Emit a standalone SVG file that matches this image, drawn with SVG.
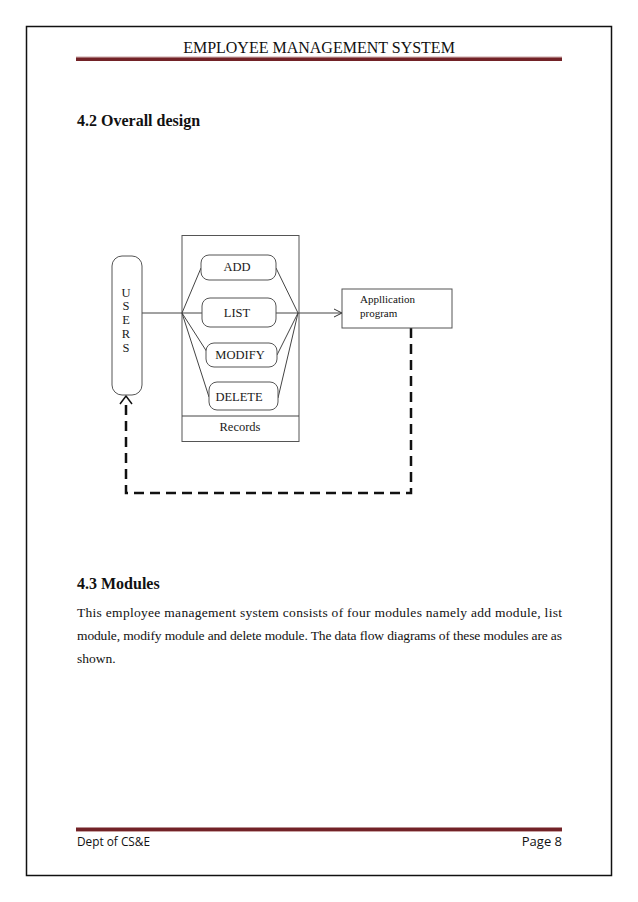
<svg xmlns="http://www.w3.org/2000/svg" width="638" height="902" viewBox="0 0 638 902">
<style>
.serif{font-family:"Liberation Serif","Times New Roman",serif;fill:#111}
.lbl{font-family:"Liberation Serif","Times New Roman",serif;font-size:12.5px;fill:#1a1a1a;text-anchor:middle}
.box{fill:#fff;stroke:#555;stroke-width:1}
.ln{stroke:#444;stroke-width:1;fill:none}
.dash{stroke:#111;stroke-width:2.5;fill:none;stroke-dasharray:10 6}
.foot{font-family:"Open Sans","Liberation Sans",sans-serif;font-size:13px;fill:#111}
</style>
<defs>
<marker id="open" viewBox="0 0 10 10" refX="9" refY="5" markerWidth="10" markerHeight="10" markerUnits="userSpaceOnUse" orient="auto">
<path d="M1,1 L9,5 L1,9" fill="none" stroke="#333" stroke-width="1"/>
</marker>
</defs>
<rect x="0" y="0" width="638" height="902" fill="#fff"/>
<rect id="page-border" x="26.5" y="26.5" width="585" height="849" fill="none" stroke="#111" stroke-width="1.5"/>

<g id="header">
<text class="serif" x="319" y="53" font-size="16" text-anchor="middle">EMPLOYEE MANAGEMENT SYSTEM</text>
<rect x="76" y="56.5" width="486" height="1.2" fill="#c9a3a3"/>
<rect x="76" y="57.5" width="486" height="3.5" fill="#722227"/>
</g>

<text class="serif" x="77" y="126" font-size="16" font-weight="bold">4.2 Overall design</text>

<g id="records-container">
<rect class="box" x="182" y="235.5" width="117" height="206"/>
<line class="ln" x1="182" y1="416" x2="299" y2="416"/>
<text class="lbl" x="240" y="431">Records</text>
</g>

<g id="connectors">
<line class="ln" x1="142" y1="313" x2="182" y2="313"/>
<line class="ln" x1="182" y1="313" x2="201" y2="268"/>
<line class="ln" x1="182" y1="313" x2="202" y2="313"/>
<line class="ln" x1="182" y1="313" x2="207" y2="352"/>
<line class="ln" x1="182" y1="313" x2="209" y2="397"/>
<line class="ln" x1="276" y1="268" x2="298" y2="313"/>
<line class="ln" x1="276" y1="313" x2="298" y2="313"/>
<line class="ln" x1="277" y1="355" x2="298" y2="313"/>
<line class="ln" x1="278" y1="398" x2="298" y2="313"/>
<line class="ln" x1="298" y1="313" x2="342" y2="313" marker-end="url(#open)"/>
<path class="dash" d="M411,328 V493 H126 V400"/>
<path d="M120,404 L126,396 L132,404" fill="none" stroke="#111" stroke-width="1.5"/>
</g>

<g id="users">
<rect class="box" x="112" y="256" width="30" height="139" rx="10" ry="10"/>
<text class="lbl" x="126" y="297">U</text>
<text class="lbl" x="126" y="310">S</text>
<text class="lbl" x="126" y="324">E</text>
<text class="lbl" x="126" y="338">R</text>
<text class="lbl" x="126" y="352">S</text>
</g>

<g id="add">
<rect class="box" x="201" y="255" width="75" height="25" rx="8" ry="8"/>
<text class="lbl" x="237" y="271">ADD</text>
</g>
<g id="list">
<rect class="box" x="202" y="298" width="74" height="29" rx="8" ry="8"/>
<text class="lbl" x="237" y="317">LIST</text>
</g>
<g id="modify">
<rect class="box" x="206" y="343" width="71" height="24" rx="8" ry="8"/>
<text class="lbl" x="240" y="359">MODIFY</text>
</g>
<g id="delete">
<rect class="box" x="209" y="382" width="69" height="28" rx="8" ry="8"/>
<text class="lbl" x="239" y="401">DELETE</text>
</g>

<g id="application">
<rect class="box" x="342" y="289" width="110" height="39"/>
<text class="serif" x="360" y="303" font-size="11">Appllication</text>
<text class="serif" x="360" y="317" font-size="11">program</text>
</g>

<text class="serif" x="77" y="589" font-size="16" font-weight="bold">4.3 Modules</text>
<text class="serif" x="77" y="617" font-size="13.5" textLength="485" lengthAdjust="spacing">This employee management system consists of four modules namely add module, list</text>
<text class="serif" x="77" y="640" font-size="13.5" textLength="485" lengthAdjust="spacing">module, modify module and delete module. The data flow diagrams of these modules are as</text>
<text class="serif" x="77" y="663" font-size="13.5">shown.</text>

<g id="footer">
<rect x="76" y="827.5" width="486" height="3.5" fill="#722227"/>
<rect x="76" y="831" width="486" height="1" fill="#c9a3a3"/>
<text class="foot" x="77" y="846" textLength="73" lengthAdjust="spacingAndGlyphs">Dept of CS&amp;E</text>
<text class="foot" x="562" y="846" text-anchor="end">Page 8</text>
</g>
</svg>
